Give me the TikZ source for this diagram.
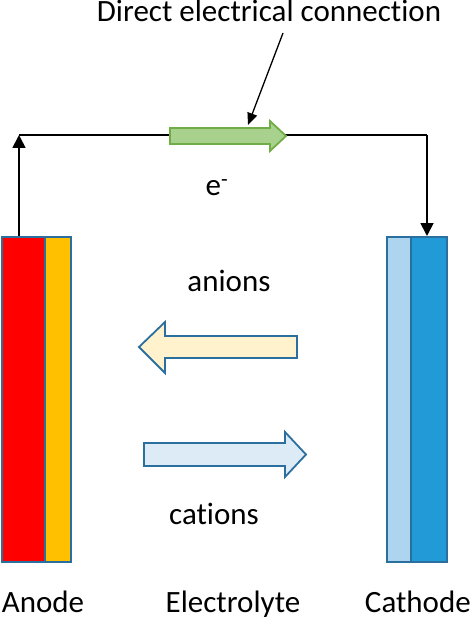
\documentclass[tikz,border=0pt]{standalone}
\usepackage{fontspec}
\setmainfont[Ligatures={NoCommon}]{Carlito}
\usetikzlibrary{arrows.meta}
\definecolor{edgeblue}{HTML}{2A6F9E}
\definecolor{anred}{HTML}{FF0000}
\definecolor{anyellow}{HTML}{FFC000}
\definecolor{catlight}{HTML}{AED5EF}
\definecolor{catdark}{HTML}{229AD8}
\definecolor{gfill}{HTML}{A9D18E}
\definecolor{gedge}{HTML}{70AD47}
\definecolor{afill}{HTML}{FFF2CC}
\definecolor{cfill}{HTML}{DDEBF7}
\begin{document}
\begin{tikzpicture}[x=1pt,y=-1pt,
  lbl/.style={font=\fontsize{31}{37}\selectfont, anchor=base, inner sep=0pt},
  layer/.style={draw=edgeblue, line width=1.8pt, rectangle, minimum height=325pt, anchor=north west, inner sep=0pt},
  wire/.style={draw=black, line width=1.8pt},
  tip/.style={-{Triangle[length=13pt,width=13pt]}},
  ionarrow/.style={draw=edgeblue, line width=1.8pt, line join=miter},
  greenarrow/.style={draw=gedge, fill=gfill, line width=1.8pt}
]
\useasboundingbox (0,0) rectangle (474,620);
% electrodes
\node[layer, fill=anred, minimum width=43pt] (anodeA) at (1,236) {};
\node[layer, fill=anyellow, minimum width=26pt] (anodeB) at (44,236) {};
\node[layer, fill=catlight, minimum width=24pt] (cathA) at (386,236) {};
\node[layer, fill=catdark, minimum width=36pt] (cathB) at (410,236) {};
% external wire
\coordinate (c1) at (19,135);
\coordinate (c2) at (427,135);
\draw[wire, tip] (c1 |- anodeA.north) -- (c1);
\draw[wire] (c1) -- (c2);
\draw[wire, tip] (c2) -- (c2 |- cathB.north);
% electron arrow
\draw[greenarrow] (170,128) -- (270,128) -- (270,121) -- (286,136) -- (270,151) -- (270,144) -- (170,144) -- cycle;
% annotation
\node[lbl] (title) at (269,22) {Direct electrical connection};
\coordinate (pt) at (248,125);
\draw[line width=1.3pt, -{Triangle[length=12pt,width=10pt]}] (283,33) -- (pt);
\node[lbl] (elec) at (217,196) {e\textsuperscript{-}};
% ion arrows
\node[lbl] (anions) at (229,291) {anions};
\draw[ionarrow, fill=afill] (297,336) -- (165,336) -- (165,322) -- (139,347) -- (165,373) -- (165,358) -- (297,358) -- cycle;
\draw[ionarrow, fill=cfill] (144,443) -- (285,443) -- (285,432) -- (306,454.5) -- (285,477) -- (285,466) -- (144,466) -- cycle;
\node[lbl] (cations) at (214,524) {cations};
% bottom labels
\node[lbl] (anode) at (43,612) {Anode};
\node[lbl] (electrolyte) at (233,612) {Electrolyte};
\node[lbl, anchor=base east] (cathode) at (471,612) {Cathode};
\end{tikzpicture}
\end{document}
